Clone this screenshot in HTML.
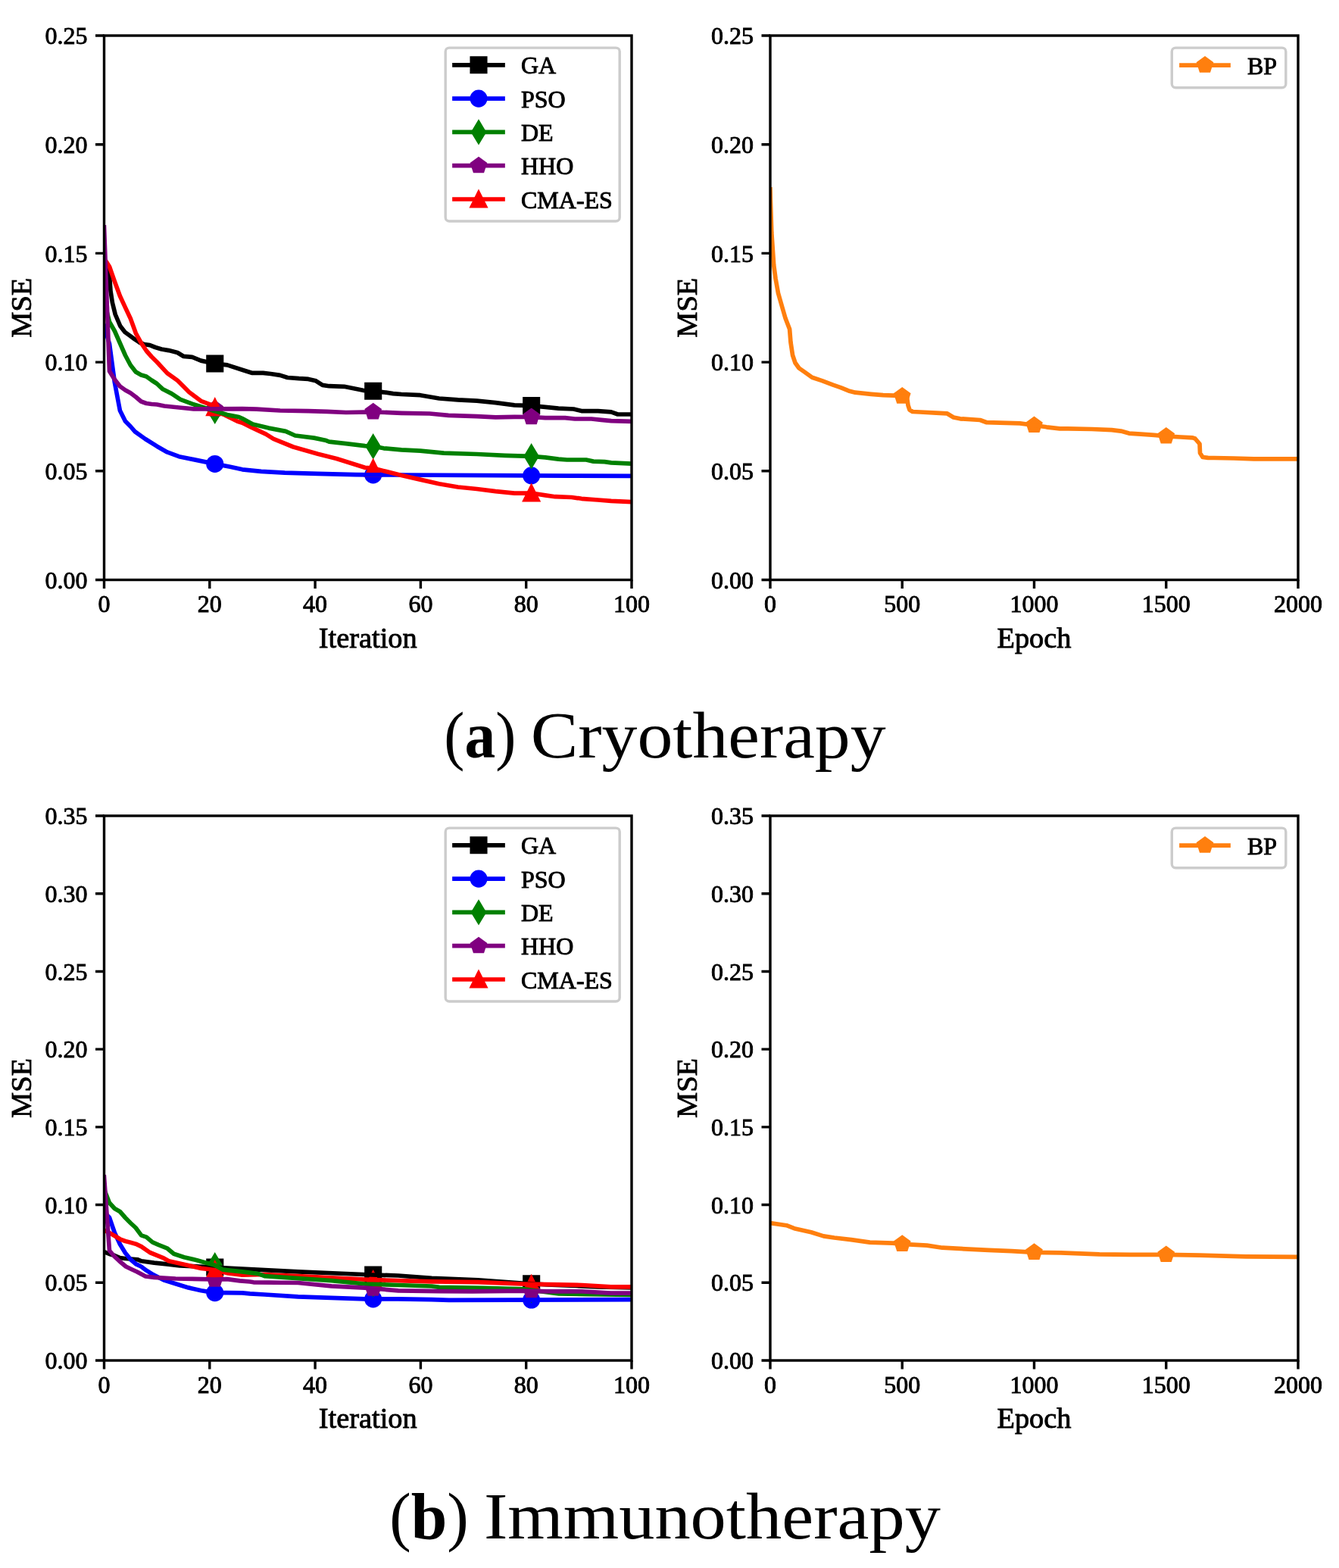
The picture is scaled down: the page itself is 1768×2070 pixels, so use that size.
<!DOCTYPE html>
<html><head><meta charset="utf-8"><title>MSE convergence</title>
<style>html,body{margin:0;padding:0;background:#fff;}svg{display:block;}</style></head><body>
<svg width="1768" height="2070" viewBox="0 0 1768 2070">
<rect x="0" y="0" width="1768" height="2070" fill="#fff"/>
<defs>
<clipPath id="cTL"><rect x="137.5" y="47" width="696.5" height="718.5"/></clipPath>
<clipPath id="cTR"><rect x="1017" y="47" width="697" height="718.5"/></clipPath>
<clipPath id="cBL"><rect x="137.5" y="1077" width="696.5" height="719"/></clipPath>
<clipPath id="cBR"><rect x="1017" y="1077" width="697" height="719"/></clipPath>
</defs>
<g clip-path="url(#cTL)">
<path d="M273.87 470.12 L293.66 470.12 L293.66 489.92 L273.87 489.92 Z" fill="#000000" stroke="#000000" stroke-width="3.3" stroke-linejoin="miter" stroke-miterlimit="10"/>
<path d="M482.81 506.34 L502.61 506.34 L502.61 526.14 L482.81 526.14 Z" fill="#000000" stroke="#000000" stroke-width="3.3" stroke-linejoin="miter" stroke-miterlimit="10"/>
<path d="M691.76 525.7 L711.56 525.7 L711.56 545.5 L691.76 545.5 Z" fill="#000000" stroke="#000000" stroke-width="3.3" stroke-linejoin="miter" stroke-miterlimit="10"/>
<circle cx="283.76" cy="612.43" r="9.9" fill="#0000ff" stroke="#0000ff" stroke-width="3.3"/>
<circle cx="492.71" cy="626.9" r="9.9" fill="#0000ff" stroke="#0000ff" stroke-width="3.3"/>
<circle cx="701.66" cy="627.86" r="9.9" fill="#0000ff" stroke="#0000ff" stroke-width="3.3"/>
<path d="M283.76 528.85 L292.17 542.85 L283.76 556.85 L275.36 542.85 Z" fill="#008000" stroke="#008000" stroke-width="3.3" stroke-linejoin="miter" stroke-miterlimit="10"/>
<path d="M492.71 575.28 L501.12 589.28 L492.71 603.29 L484.31 589.28 Z" fill="#008000" stroke="#008000" stroke-width="3.3" stroke-linejoin="miter" stroke-miterlimit="10"/>
<path d="M701.66 588.3 L710.07 602.3 L701.66 616.3 L693.26 602.3 Z" fill="#008000" stroke="#008000" stroke-width="3.3" stroke-linejoin="miter" stroke-miterlimit="10"/>
<path d="M283.76 530 L274.35 536.84 L277.95 547.91 L289.58 547.91 L293.18 536.84 Z" fill="#800080" stroke="#800080" stroke-width="3.3" stroke-linejoin="miter" stroke-miterlimit="10"/>
<path d="M492.71 533.91 L483.3 540.75 L486.9 551.82 L498.53 551.82 L502.13 540.75 Z" fill="#800080" stroke="#800080" stroke-width="3.3" stroke-linejoin="miter" stroke-miterlimit="10"/>
<path d="M701.66 540.6 L692.25 547.44 L695.85 558.51 L707.48 558.51 L711.08 547.44 Z" fill="#800080" stroke="#800080" stroke-width="3.3" stroke-linejoin="miter" stroke-miterlimit="10"/>
<path d="M283.76 527.81 L273.87 547.61 L293.66 547.61 Z" fill="#ff0000" stroke="#ff0000" stroke-width="3.3" stroke-linejoin="miter" stroke-miterlimit="10"/>
<path d="M492.71 608.18 L482.81 627.98 L502.61 627.98 Z" fill="#ff0000" stroke="#ff0000" stroke-width="3.3" stroke-linejoin="miter" stroke-miterlimit="10"/>
<path d="M701.66 641.1 L691.76 660.9 L711.56 660.9 Z" fill="#ff0000" stroke="#ff0000" stroke-width="3.3" stroke-linejoin="miter" stroke-miterlimit="10"/>
<polyline points="137.5,340 142.5,356 144.9,368.6 146,384.1 148.4,399.6 152.2,415 158.8,430.5 165,438.5 172,443.5 178,448 184,452 190,454.5 197.8,455.6 205,458.5 213.3,461 222.8,462.6 234.3,465.5 242.1,470.3 253.7,471.3 265.3,476.1 283.6,480 300,481.9 321.3,488.7 332.4,492.3 347.4,492.3 357.3,493.5 369.8,495.4 379.7,498.5 394.7,499.7 407.1,500.4 417.1,502.8 425.8,508.4 434.5,509.7 454.4,510.3 479.3,515.3 492.4,516.2 506.7,517.8 519.1,519.6 530,520.5 554.9,521.7 579.8,526 604.7,527.9 629.6,529.2 654.4,531.6 679.3,534.8 701.7,535.6 720,537.4 737.4,539.1 757.4,540 767.8,542.6 789.6,542.6 807,543.9 815.7,547 840,547" fill="none" stroke="#000000" stroke-width="5.7" stroke-linejoin="round" stroke-linecap="square"/>
<polyline points="137.5,430 144.5,454 151.4,505 158.4,542 165.4,556 172.3,563 178.3,569.9 191.8,579.5 207.3,589.2 220.8,596.9 236.3,602.7 255.6,606.6 283.6,612.4 303.9,616.2 320,619.8 344.9,622.3 376,624.2 419.6,625.4 469.3,626.7 492.9,626.9 530,627 750,628.1 840,628.3" fill="none" stroke="#0000ff" stroke-width="5.7" stroke-linejoin="round" stroke-linecap="square"/>
<polyline points="137.5,341 144.5,352 151.4,371.8 158.4,390.8 165.4,405.9 172.3,420.5 179.3,439.8 186.3,452.6 193.2,463 200.2,471 207.3,478 220.8,492.6 234.3,502.2 249.8,517.7 265.3,529.3 280.7,535.1 294.3,546.7 313.6,556.3 320,558.2 332.4,564.4 351.1,573.2 361.1,579.4 387.2,590 419.6,599.3 444.4,605.5 481.8,617.3 492.4,618 506.7,621.7 530,627.5 554.9,633.1 579.8,638.7 604.7,643 629.6,645.5 654.4,648.6 679.3,651.1 701.7,651 720,653.9 733,655.7 754.8,656.5 767.8,658.3 789.6,660 807,661.3 840,662.8" fill="none" stroke="#ff0000" stroke-width="5.7" stroke-linejoin="round" stroke-linecap="square"/>
<polyline points="137.5,397 144.5,425 151.4,437 158.4,453 165.4,469 172.3,482 179.3,491 186.3,495 193.2,497 200.2,502 207.2,506.5 215,513.8 226.6,519.6 238.2,527.3 253.7,533.1 269.1,538 283.6,542.8 300,547.6 315.5,550.5 320,552.6 333.7,560.1 354.8,565.1 377.2,569.4 389.7,575 414.6,578.1 429.5,581.2 434.5,583.1 456.9,585.6 481.8,588.7 493,589.3 506.7,591.8 530,593.9 554.9,595.1 586,598.2 629.6,599.5 666.9,601.3 701.7,602.3 720,603.9 737.4,606.1 748.7,607 773.9,607 783.5,609.1 798.3,609.6 807,610.9 840,612.3" fill="none" stroke="#008000" stroke-width="5.7" stroke-linejoin="round" stroke-linecap="square"/>
<polyline points="137.5,300 144.5,490 151.4,501 158.4,510 165.4,515 172.3,518.8 179.3,524 186.3,530 193.2,532.5 200.2,533.5 207.2,534 217,536 236.3,538 255.6,539.9 284.6,539.9 320,539.6 338.7,540.2 369.8,542 407.1,542.7 432,543.3 456.9,544.5 492.4,543.8 530,545.3 567.3,546 592.2,548.4 629.6,549.7 654.4,550.9 679.3,550.3 701.7,550.5 720,551.7 746.1,551.7 759.1,553 780.9,553 793.9,554.3 807,555.7 840,556.6" fill="none" stroke="#800080" stroke-width="5.7" stroke-linejoin="round" stroke-linecap="square"/>
</g>
<rect x="137.5" y="47" width="696.5" height="718.5" fill="none" stroke="#000" stroke-width="3.4" stroke-linejoin="miter"/>
<path d="M137.5 765.5V777M276.8 765.5V777M416.1 765.5V777M555.4 765.5V777M694.7 765.5V777M834 765.5V777M137.5 765.5H126M137.5 621.8H126M137.5 478.1H126M137.5 334.4H126M137.5 190.7H126M137.5 47H126" stroke="#000" stroke-width="3.4" fill="none"/>
<g font-family='"Liberation Serif", "Times New Roman", serif' font-size="32" fill="#000" stroke="#000" stroke-width="0.9">
<text x="137.5" y="808.3" text-anchor="middle">0</text>
<text x="276.8" y="808.3" text-anchor="middle">20</text>
<text x="416.1" y="808.3" text-anchor="middle">40</text>
<text x="555.4" y="808.3" text-anchor="middle">60</text>
<text x="694.7" y="808.3" text-anchor="middle">80</text>
<text x="834" y="808.3" text-anchor="middle">100</text>
<text x="115.5" y="776.7" text-anchor="end">0.00</text>
<text x="115.5" y="633" text-anchor="end">0.05</text>
<text x="115.5" y="489.3" text-anchor="end">0.10</text>
<text x="115.5" y="345.6" text-anchor="end">0.15</text>
<text x="115.5" y="201.9" text-anchor="end">0.20</text>
<text x="115.5" y="58.2" text-anchor="end">0.25</text>
</g>
<text x="485.75" y="854.9" text-anchor="middle" font-family='"Liberation Serif", "Times New Roman", serif' font-size="38.4" stroke="#000" stroke-width="0.9">Iteration</text>
<text x="0" y="0" transform="translate(40.5 406.25) rotate(-90)" text-anchor="middle" font-family='"Liberation Serif", "Times New Roman", serif' font-size="38.4" stroke="#000" stroke-width="0.9">MSE</text>
<g clip-path="url(#cTR)">
<path d="M1191.25 513.08 L1181.83 519.92 L1185.43 530.99 L1197.07 530.99 L1200.67 519.92 Z" fill="#ff7f0e" stroke="#ff7f0e" stroke-width="3.3" stroke-linejoin="miter" stroke-miterlimit="10"/>
<path d="M1365.5 551.53 L1356.08 558.37 L1359.68 569.44 L1371.32 569.44 L1374.92 558.37 Z" fill="#ff7f0e" stroke="#ff7f0e" stroke-width="3.3" stroke-linejoin="miter" stroke-miterlimit="10"/>
<path d="M1539.75 566 L1530.33 572.84 L1533.93 583.9 L1545.57 583.9 L1549.17 572.84 Z" fill="#ff7f0e" stroke="#ff7f0e" stroke-width="3.3" stroke-linejoin="miter" stroke-miterlimit="10"/>
<polyline points="1017,250 1017.3,263 1018.8,307 1021.7,350 1024.1,368 1027.5,387 1032.8,405.5 1037,420 1042.6,434.5 1044,452 1046.6,469 1050,479 1055,486 1062.2,491 1072.3,498.3 1085.4,502.6 1099.9,508.1 1110,511.6 1120.5,515.9 1129.3,518.2 1150.3,520.3 1166.1,521.7 1180.1,522.1 1191.5,523 1197.5,524 1199,535 1201,541 1205,543.5 1215.2,544 1236.2,545.2 1250.3,545.8 1259,551 1267.8,552.8 1294.1,554.5 1302.9,557.7 1346.7,558.9 1366,561.5 1381.8,563.8 1399.3,565.9 1410,565.9 1441.6,566.5 1467.9,567.7 1480.1,569.1 1490.7,572.1 1506.4,573.1 1524,574.4 1539.8,575.9 1559,577 1574.8,577.9 1578,579 1584,586 1584.5,598 1588,603.5 1595,604.3 1602.9,604.5 1629.2,605 1655.5,605.9 1720,605.9" fill="none" stroke="#ff7f0e" stroke-width="5.7" stroke-linejoin="round" stroke-linecap="square"/>
</g>
<rect x="1017" y="47" width="697" height="718.5" fill="none" stroke="#000" stroke-width="3.4" stroke-linejoin="miter"/>
<path d="M1017 765.5V777M1191.25 765.5V777M1365.5 765.5V777M1539.75 765.5V777M1714 765.5V777M1017 765.5H1005.5M1017 621.8H1005.5M1017 478.1H1005.5M1017 334.4H1005.5M1017 190.7H1005.5M1017 47H1005.5" stroke="#000" stroke-width="3.4" fill="none"/>
<g font-family='"Liberation Serif", "Times New Roman", serif' font-size="32" fill="#000" stroke="#000" stroke-width="0.9">
<text x="1017" y="808.3" text-anchor="middle">0</text>
<text x="1191.25" y="808.3" text-anchor="middle">500</text>
<text x="1365.5" y="808.3" text-anchor="middle">1000</text>
<text x="1539.75" y="808.3" text-anchor="middle">1500</text>
<text x="1714" y="808.3" text-anchor="middle">2000</text>
<text x="995" y="776.7" text-anchor="end">0.00</text>
<text x="995" y="633" text-anchor="end">0.05</text>
<text x="995" y="489.3" text-anchor="end">0.10</text>
<text x="995" y="345.6" text-anchor="end">0.15</text>
<text x="995" y="201.9" text-anchor="end">0.20</text>
<text x="995" y="58.2" text-anchor="end">0.25</text>
</g>
<text x="1365.5" y="854.9" text-anchor="middle" font-family='"Liberation Serif", "Times New Roman", serif' font-size="38.4" stroke="#000" stroke-width="0.9">Epoch</text>
<text x="0" y="0" transform="translate(920 406.25) rotate(-90)" text-anchor="middle" font-family='"Liberation Serif", "Times New Roman", serif' font-size="38.4" stroke="#000" stroke-width="0.9">MSE</text>
<g clip-path="url(#cBL)">
<path d="M273.87 1663.13 L293.66 1663.13 L293.66 1682.93 L273.87 1682.93 Z" fill="#000000" stroke="#000000" stroke-width="3.3" stroke-linejoin="miter" stroke-miterlimit="10"/>
<path d="M482.81 1673.13 L502.61 1673.13 L502.61 1692.93 L482.81 1692.93 Z" fill="#000000" stroke="#000000" stroke-width="3.3" stroke-linejoin="miter" stroke-miterlimit="10"/>
<path d="M691.76 1684.85 L711.56 1684.85 L711.56 1704.65 L691.76 1704.65 Z" fill="#000000" stroke="#000000" stroke-width="3.3" stroke-linejoin="miter" stroke-miterlimit="10"/>
<circle cx="283.76" cy="1706.6" r="9.9" fill="#0000ff" stroke="#0000ff" stroke-width="3.3"/>
<circle cx="492.71" cy="1714.9" r="9.9" fill="#0000ff" stroke="#0000ff" stroke-width="3.3"/>
<circle cx="701.66" cy="1716.05" r="9.9" fill="#0000ff" stroke="#0000ff" stroke-width="3.3"/>
<path d="M283.76 1656.26 L292.17 1670.27 L283.76 1684.27 L275.36 1670.27 Z" fill="#008000" stroke="#008000" stroke-width="3.3" stroke-linejoin="miter" stroke-miterlimit="10"/>
<path d="M492.71 1681.37 L501.12 1695.37 L492.71 1709.37 L484.31 1695.37 Z" fill="#008000" stroke="#008000" stroke-width="3.3" stroke-linejoin="miter" stroke-miterlimit="10"/>
<path d="M701.66 1689.16 L710.07 1703.16 L701.66 1717.16 L693.26 1703.16 Z" fill="#008000" stroke="#008000" stroke-width="3.3" stroke-linejoin="miter" stroke-miterlimit="10"/>
<path d="M283.76 1679.09 L274.35 1685.93 L277.95 1697 L289.58 1697 L293.18 1685.93 Z" fill="#800080" stroke="#800080" stroke-width="3.3" stroke-linejoin="miter" stroke-miterlimit="10"/>
<path d="M492.71 1691.12 L483.3 1697.96 L486.9 1709.03 L498.53 1709.03 L502.13 1697.96 Z" fill="#800080" stroke="#800080" stroke-width="3.3" stroke-linejoin="miter" stroke-miterlimit="10"/>
<path d="M701.66 1694.45 L692.25 1701.29 L695.85 1712.36 L707.48 1712.36 L711.08 1701.29 Z" fill="#800080" stroke="#800080" stroke-width="3.3" stroke-linejoin="miter" stroke-miterlimit="10"/>
<path d="M283.76 1666.72 L273.87 1686.52 L293.66 1686.52 Z" fill="#ff0000" stroke="#ff0000" stroke-width="3.3" stroke-linejoin="miter" stroke-miterlimit="10"/>
<path d="M492.71 1679.57 L482.81 1699.37 L502.61 1699.37 Z" fill="#ff0000" stroke="#ff0000" stroke-width="3.3" stroke-linejoin="miter" stroke-miterlimit="10"/>
<path d="M701.66 1685.36 L691.76 1705.16 L711.56 1705.16 Z" fill="#ff0000" stroke="#ff0000" stroke-width="3.3" stroke-linejoin="miter" stroke-miterlimit="10"/>
<polyline points="137.5,1652.5 144.5,1655.5 151.4,1657.5 158.4,1660.5 165.4,1661.5 172.3,1662 182,1662.8 186.6,1664.8 203.5,1667.1 220.5,1668.8 237.5,1671 254.4,1671.6 283.3,1673 305.3,1674.4 330,1675.5 349.4,1676.6 393.5,1678.8 445,1681 491.8,1683 525.9,1684 570,1687.3 631.1,1689.8 689.1,1694 722.7,1696 760,1697.5 789,1699 840,1700" fill="none" stroke="#000000" stroke-width="5.7" stroke-linejoin="round" stroke-linecap="square"/>
<polyline points="137.5,1600 144.5,1607.5 151.4,1627.5 158.4,1642.5 165.4,1654 172.3,1662.5 179.3,1668.6 186.3,1672 193.3,1677.2 202.4,1682.9 216,1689.7 231.8,1694.8 248.8,1699.9 265.7,1703.8 283.3,1706.6 299.7,1706.6 320,1706.8 330,1707.8 349.4,1709 393.5,1711.9 437.6,1713.4 481.8,1714.9 525.9,1714.9 570,1715.6 592.9,1716.4 840,1715.6" fill="none" stroke="#0000ff" stroke-width="5.7" stroke-linejoin="round" stroke-linecap="square"/>
<polyline points="137.5,1624 144.5,1627.5 151.4,1631.5 158.4,1635.8 165.4,1638.5 172.3,1640.3 179.3,1642.2 186.6,1645.6 197.9,1653.5 214.8,1660.3 222.8,1664.8 243.1,1669.3 265.7,1674.4 283.3,1676.5 299.7,1680.6 320,1683.2 349.4,1682.5 393.5,1684.7 437.6,1686.9 481.8,1689.1 525.9,1690.6 570,1691.9 631.1,1692.7 689.1,1695 722.7,1695.7 768.5,1696.5 806.7,1698.8 840,1698.8" fill="none" stroke="#ff0000" stroke-width="5.7" stroke-linejoin="round" stroke-linecap="square"/>
<polyline points="137.5,1570 144.5,1588 151.4,1595.5 158.4,1599.5 165.4,1607.5 172.3,1614.5 179.3,1621 186.6,1630.9 193.3,1633.1 201.3,1639.9 209.2,1643.3 220.5,1647.8 229.5,1655.2 243.1,1659.7 260.1,1663.7 271.4,1667.1 283.3,1670 294,1676.1 320,1678.8 330,1680.1 342,1681.8 349.4,1684.7 393.5,1687.6 437.6,1690.6 481.8,1695 525.9,1696.5 570,1698 580,1699.4 638.7,1700.3 692.2,1701.9 738,1708 776.2,1708.7 840,1709.5" fill="none" stroke="#008000" stroke-width="5.7" stroke-linejoin="round" stroke-linecap="square"/>
<polyline points="137.5,1553.7 144.5,1651 151.4,1659 158.4,1665.5 166.2,1672 172.3,1675 180.9,1679 192.2,1685 203.5,1686.3 231.8,1688 265.7,1688.6 283.3,1689 299.7,1688.6 316.7,1690.8 330,1692 334.7,1692.8 393.5,1693.5 437.6,1697.9 481.8,1700.1 525.9,1703.8 580,1704.6 623.5,1704.9 692.2,1704.1 722.7,1704.9 768.5,1704.9 806.7,1707.2 840,1707.2" fill="none" stroke="#800080" stroke-width="5.7" stroke-linejoin="round" stroke-linecap="square"/>
</g>
<rect x="137.5" y="1077" width="696.5" height="719" fill="none" stroke="#000" stroke-width="3.4" stroke-linejoin="miter"/>
<path d="M137.5 1796V1807.5M276.8 1796V1807.5M416.1 1796V1807.5M555.4 1796V1807.5M694.7 1796V1807.5M834 1796V1807.5M137.5 1796H126M137.5 1693.29H126M137.5 1590.57H126M137.5 1487.86H126M137.5 1385.14H126M137.5 1282.43H126M137.5 1179.71H126M137.5 1077H126" stroke="#000" stroke-width="3.4" fill="none"/>
<g font-family='"Liberation Serif", "Times New Roman", serif' font-size="32" fill="#000" stroke="#000" stroke-width="0.9">
<text x="137.5" y="1838.8" text-anchor="middle">0</text>
<text x="276.8" y="1838.8" text-anchor="middle">20</text>
<text x="416.1" y="1838.8" text-anchor="middle">40</text>
<text x="555.4" y="1838.8" text-anchor="middle">60</text>
<text x="694.7" y="1838.8" text-anchor="middle">80</text>
<text x="834" y="1838.8" text-anchor="middle">100</text>
<text x="115.5" y="1807.2" text-anchor="end">0.00</text>
<text x="115.5" y="1704.49" text-anchor="end">0.05</text>
<text x="115.5" y="1601.77" text-anchor="end">0.10</text>
<text x="115.5" y="1499.06" text-anchor="end">0.15</text>
<text x="115.5" y="1396.34" text-anchor="end">0.20</text>
<text x="115.5" y="1293.63" text-anchor="end">0.25</text>
<text x="115.5" y="1190.91" text-anchor="end">0.30</text>
<text x="115.5" y="1088.2" text-anchor="end">0.35</text>
</g>
<text x="485.75" y="1885.4" text-anchor="middle" font-family='"Liberation Serif", "Times New Roman", serif' font-size="38.4" stroke="#000" stroke-width="0.9">Iteration</text>
<text x="0" y="0" transform="translate(40.5 1436.5) rotate(-90)" text-anchor="middle" font-family='"Liberation Serif", "Times New Roman", serif' font-size="38.4" stroke="#000" stroke-width="0.9">MSE</text>
<g clip-path="url(#cBR)">
<path d="M1191.25 1632.4 L1181.83 1639.24 L1185.43 1650.31 L1197.07 1650.31 L1200.67 1639.24 Z" fill="#ff7f0e" stroke="#ff7f0e" stroke-width="3.3" stroke-linejoin="miter" stroke-miterlimit="10"/>
<path d="M1365.5 1643.37 L1356.08 1650.21 L1359.68 1661.28 L1371.32 1661.28 L1374.92 1650.21 Z" fill="#ff7f0e" stroke="#ff7f0e" stroke-width="3.3" stroke-linejoin="miter" stroke-miterlimit="10"/>
<path d="M1539.75 1646.5 L1530.33 1653.34 L1533.93 1664.41 L1545.57 1664.41 L1549.17 1653.34 Z" fill="#ff7f0e" stroke="#ff7f0e" stroke-width="3.3" stroke-linejoin="miter" stroke-miterlimit="10"/>
<polyline points="1017,1614.6 1038.5,1617.7 1048.7,1621.7 1071.1,1626.8 1087.4,1631.9 1101.6,1634 1124,1636.6 1148.5,1640.1 1179,1641.1 1191.2,1642.3 1223.8,1644.1 1244.2,1647.2 1274.7,1648.8 1305.3,1650.3 1335.8,1651.7 1366.1,1653.3 1400.7,1653.8 1451.6,1655.8 1492.4,1656.4 1540.2,1656.4 1584,1657.2 1645.1,1658.9 1720,1659.5" fill="none" stroke="#ff7f0e" stroke-width="5.7" stroke-linejoin="round" stroke-linecap="square"/>
</g>
<rect x="1017" y="1077" width="697" height="719" fill="none" stroke="#000" stroke-width="3.4" stroke-linejoin="miter"/>
<path d="M1017 1796V1807.5M1191.25 1796V1807.5M1365.5 1796V1807.5M1539.75 1796V1807.5M1714 1796V1807.5M1017 1796H1005.5M1017 1693.29H1005.5M1017 1590.57H1005.5M1017 1487.86H1005.5M1017 1385.14H1005.5M1017 1282.43H1005.5M1017 1179.71H1005.5M1017 1077H1005.5" stroke="#000" stroke-width="3.4" fill="none"/>
<g font-family='"Liberation Serif", "Times New Roman", serif' font-size="32" fill="#000" stroke="#000" stroke-width="0.9">
<text x="1017" y="1838.8" text-anchor="middle">0</text>
<text x="1191.25" y="1838.8" text-anchor="middle">500</text>
<text x="1365.5" y="1838.8" text-anchor="middle">1000</text>
<text x="1539.75" y="1838.8" text-anchor="middle">1500</text>
<text x="1714" y="1838.8" text-anchor="middle">2000</text>
<text x="995" y="1807.2" text-anchor="end">0.00</text>
<text x="995" y="1704.49" text-anchor="end">0.05</text>
<text x="995" y="1601.77" text-anchor="end">0.10</text>
<text x="995" y="1499.06" text-anchor="end">0.15</text>
<text x="995" y="1396.34" text-anchor="end">0.20</text>
<text x="995" y="1293.63" text-anchor="end">0.25</text>
<text x="995" y="1190.91" text-anchor="end">0.30</text>
<text x="995" y="1088.2" text-anchor="end">0.35</text>
</g>
<text x="1365.5" y="1885.4" text-anchor="middle" font-family='"Liberation Serif", "Times New Roman", serif' font-size="38.4" stroke="#000" stroke-width="0.9">Epoch</text>
<text x="0" y="0" transform="translate(920 1436.5) rotate(-90)" text-anchor="middle" font-family='"Liberation Serif", "Times New Roman", serif' font-size="38.4" stroke="#000" stroke-width="0.9">MSE</text>
<rect x="588.2" y="63.1" width="230" height="228.9" rx="5" ry="5" fill="#fff" fill-opacity="0.8" stroke="#cccccc" stroke-width="3.4"/>
<line x1="600" y1="85.8" x2="664" y2="85.8" stroke="#000000" stroke-width="5.7" stroke-linecap="square"/>
<path d="M622.1 75.9 L641.9 75.9 L641.9 95.7 L622.1 95.7 Z" fill="#000000" stroke="#000000" stroke-width="3.3" stroke-linejoin="miter" stroke-miterlimit="10"/>
<text x="688" y="97.4" font-family='"Liberation Serif", "Times New Roman", serif' font-size="32" stroke="#000" stroke-width="0.9">GA</text>
<line x1="600" y1="130.1" x2="664" y2="130.1" stroke="#0000ff" stroke-width="5.7" stroke-linecap="square"/>
<circle cx="632" cy="130.1" r="9.9" fill="#0000ff" stroke="#0000ff" stroke-width="3.3"/>
<text x="688" y="141.7" font-family='"Liberation Serif", "Times New Roman", serif' font-size="32" stroke="#000" stroke-width="0.9">PSO</text>
<line x1="600" y1="174.4" x2="664" y2="174.4" stroke="#008000" stroke-width="5.7" stroke-linecap="square"/>
<path d="M632 160.4 L640.4 174.4 L632 188.4 L623.6 174.4 Z" fill="#008000" stroke="#008000" stroke-width="3.3" stroke-linejoin="miter" stroke-miterlimit="10"/>
<text x="688" y="186" font-family='"Liberation Serif", "Times New Roman", serif' font-size="32" stroke="#000" stroke-width="0.9">DE</text>
<line x1="600" y1="218.7" x2="664" y2="218.7" stroke="#800080" stroke-width="5.7" stroke-linecap="square"/>
<path d="M632 208.8 L622.58 215.64 L626.18 226.71 L637.82 226.71 L641.42 215.64 Z" fill="#800080" stroke="#800080" stroke-width="3.3" stroke-linejoin="miter" stroke-miterlimit="10"/>
<text x="688" y="230.3" font-family='"Liberation Serif", "Times New Roman", serif' font-size="32" stroke="#000" stroke-width="0.9">HHO</text>
<line x1="600" y1="263" x2="664" y2="263" stroke="#ff0000" stroke-width="5.7" stroke-linecap="square"/>
<path d="M632 253.1 L622.1 272.9 L641.9 272.9 Z" fill="#ff0000" stroke="#ff0000" stroke-width="3.3" stroke-linejoin="miter" stroke-miterlimit="10"/>
<text x="688" y="274.6" font-family='"Liberation Serif", "Times New Roman", serif' font-size="32" stroke="#000" stroke-width="0.9">CMA-ES</text>
<rect x="1547.3" y="63.1" width="150.5" height="52.7" rx="5" ry="5" fill="#fff" fill-opacity="0.8" stroke="#cccccc" stroke-width="3.4"/>
<line x1="1560" y1="86.05" x2="1622" y2="86.05" stroke="#ff7f0e" stroke-width="5.7" stroke-linecap="square"/>
<path d="M1591 76.15 L1581.58 82.99 L1585.18 94.06 L1596.82 94.06 L1600.42 82.99 Z" fill="#ff7f0e" stroke="#ff7f0e" stroke-width="3.3" stroke-linejoin="miter" stroke-miterlimit="10"/>
<text x="1647" y="97.65" font-family='"Liberation Serif", "Times New Roman", serif' font-size="32" stroke="#000" stroke-width="0.9">BP</text>
<rect x="588.2" y="1093.1" width="230" height="228.9" rx="5" ry="5" fill="#fff" fill-opacity="0.8" stroke="#cccccc" stroke-width="3.4"/>
<line x1="600" y1="1115.8" x2="664" y2="1115.8" stroke="#000000" stroke-width="5.7" stroke-linecap="square"/>
<path d="M622.1 1105.9 L641.9 1105.9 L641.9 1125.7 L622.1 1125.7 Z" fill="#000000" stroke="#000000" stroke-width="3.3" stroke-linejoin="miter" stroke-miterlimit="10"/>
<text x="688" y="1127.4" font-family='"Liberation Serif", "Times New Roman", serif' font-size="32" stroke="#000" stroke-width="0.9">GA</text>
<line x1="600" y1="1160.1" x2="664" y2="1160.1" stroke="#0000ff" stroke-width="5.7" stroke-linecap="square"/>
<circle cx="632" cy="1160.1" r="9.9" fill="#0000ff" stroke="#0000ff" stroke-width="3.3"/>
<text x="688" y="1171.7" font-family='"Liberation Serif", "Times New Roman", serif' font-size="32" stroke="#000" stroke-width="0.9">PSO</text>
<line x1="600" y1="1204.4" x2="664" y2="1204.4" stroke="#008000" stroke-width="5.7" stroke-linecap="square"/>
<path d="M632 1190.4 L640.4 1204.4 L632 1218.4 L623.6 1204.4 Z" fill="#008000" stroke="#008000" stroke-width="3.3" stroke-linejoin="miter" stroke-miterlimit="10"/>
<text x="688" y="1216" font-family='"Liberation Serif", "Times New Roman", serif' font-size="32" stroke="#000" stroke-width="0.9">DE</text>
<line x1="600" y1="1248.7" x2="664" y2="1248.7" stroke="#800080" stroke-width="5.7" stroke-linecap="square"/>
<path d="M632 1238.8 L622.58 1245.64 L626.18 1256.71 L637.82 1256.71 L641.42 1245.64 Z" fill="#800080" stroke="#800080" stroke-width="3.3" stroke-linejoin="miter" stroke-miterlimit="10"/>
<text x="688" y="1260.3" font-family='"Liberation Serif", "Times New Roman", serif' font-size="32" stroke="#000" stroke-width="0.9">HHO</text>
<line x1="600" y1="1293" x2="664" y2="1293" stroke="#ff0000" stroke-width="5.7" stroke-linecap="square"/>
<path d="M632 1283.1 L622.1 1302.9 L641.9 1302.9 Z" fill="#ff0000" stroke="#ff0000" stroke-width="3.3" stroke-linejoin="miter" stroke-miterlimit="10"/>
<text x="688" y="1304.6" font-family='"Liberation Serif", "Times New Roman", serif' font-size="32" stroke="#000" stroke-width="0.9">CMA-ES</text>
<rect x="1547.3" y="1093.1" width="150.5" height="52.7" rx="5" ry="5" fill="#fff" fill-opacity="0.8" stroke="#cccccc" stroke-width="3.4"/>
<line x1="1560" y1="1116.05" x2="1622" y2="1116.05" stroke="#ff7f0e" stroke-width="5.7" stroke-linecap="square"/>
<path d="M1591 1106.15 L1581.58 1112.99 L1585.18 1124.06 L1596.82 1124.06 L1600.42 1112.99 Z" fill="#ff7f0e" stroke="#ff7f0e" stroke-width="3.3" stroke-linejoin="miter" stroke-miterlimit="10"/>
<text x="1647" y="1127.65" font-family='"Liberation Serif", "Times New Roman", serif' font-size="32" stroke="#000" stroke-width="0.9">BP</text>
<text x="586.3" y="1000" font-family='"Liberation Serif", "Times New Roman", serif' font-size="86" textLength="95" lengthAdjust="spacingAndGlyphs">(<tspan font-weight="bold">a</tspan>)</text>
<text x="700.7" y="1000" font-family='"Liberation Serif", "Times New Roman", serif' font-size="86" textLength="469" lengthAdjust="spacingAndGlyphs">Cryotherapy</text>
<text x="514.2" y="2030.5" font-family='"Liberation Serif", "Times New Roman", serif' font-size="86" textLength="104.6" lengthAdjust="spacingAndGlyphs">(<tspan font-weight="bold">b</tspan>)</text>
<text x="638.9" y="2030.5" font-family='"Liberation Serif", "Times New Roman", serif' font-size="86" textLength="603" lengthAdjust="spacingAndGlyphs">Immunotherapy</text>
</svg>
</body></html>
